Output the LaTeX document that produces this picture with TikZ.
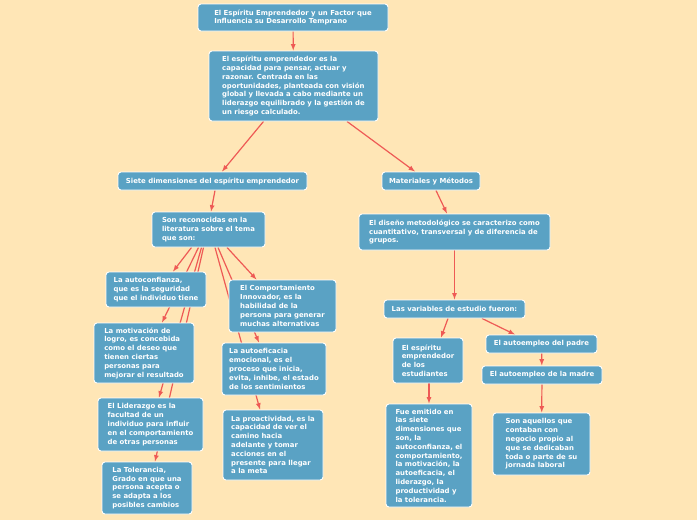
\documentclass[tikz,border=0pt]{standalone}
\usepackage{fontspec}
\setmainfont{DejaVu Sans}
\usepackage{tikz}
\usetikzlibrary{arrows}

\definecolor{paper}{HTML}{FFE6B6}
\definecolor{boxblue}{HTML}{5AA2C4}
\definecolor{linkred}{HTML}{EE5A55}

\pgfdeclarelayer{back}
\pgfdeclarelayer{lines}
\pgfsetlayers{back,lines,main}

\begin{document}
\begin{tikzpicture}[x=1pt,y=-1pt]

\tikzstyle{box} = [rectangle, rounded corners=3pt, draw=white, line width=0.9pt, fill=boxblue, text=white, font=\fontsize{6.9}{8.8}\selectfont\bfseries, align=left, inner sep=0pt]
\tikzstyle{link} = [-latex, color=linkred, line width=1.2pt]

\useasboundingbox (0,0) rectangle (697,520);
\begin{pgfonlayer}{back}
	\fill[paper] (0,0) rectangle (697,520);
\end{pgfonlayer}

%------------------------------------------------------------
	\node[box, minimum width=190, minimum height=27] (v0) at (293,17.5) {El Espíritu Emprendedor y un Factor que\\Influencia su Desarrollo Temprano};
	\node[box, minimum width=169, minimum height=70] (v1) at (293.5,86) {El espíritu emprendedor es la\\capacidad para pensar, actuar y\\razonar. Centrada en las\\oportunidades, planteada con visión\\global y llevada a cabo mediante un\\liderazgo equilibrado y la gestión de\\un riesgo calculado.};

%------------------------------------------------------------
	\node[box, minimum width=189, minimum height=18] (v10) at (212.5,181) {Siete dimensiones del espíritu emprendedor};
	\node[box, minimum width=113, minimum height=35] (v11) at (208.5,229.5) {Son reconocidas en la\\literatura sobre el tema\\que son:};
	\node[box, minimum width=100, minimum height=35] (v12) at (156,289.5) {La autoconfianza,\\que es la seguridad\\que el individuo tiene};
	\node[box, minimum width=107, minimum height=52] (v13) at (282.5,306) {El Comportamiento\\Innovador, es la\\habilidad de la\\persona para generar\\muchas alternativas};
	\node[box, minimum width=100, minimum height=60] (v14) at (144,353) {La motivación de\\logro, es concebida\\como el deseo que\\tienen ciertas\\personas para\\mejorar el resultado};
	\node[box, minimum width=104, minimum height=52] (v15) at (274,369) {La autoeficacia\\emocional, es el\\proceso que inicia,\\evita, inhibe, el estado\\de los sentimientos};
	\node[box, minimum width=105, minimum height=53] (v16) at (150.5,424.5) {El Liderazgo es la\\facultad de un\\individuo para influir\\en el comportamiento\\de otras personas};
	\node[box, minimum width=100, minimum height=70] (v17) at (273,445) {La proactividad, es la\\capacidad de ver el\\camino hacia\\adelante y tomar\\acciones en el\\presente para llegar\\a la meta};
	\node[box, minimum width=90, minimum height=52] (v18) at (147,488) {La Tolerancia,\\Grado en que una\\persona acepta o\\se adapta a los\\posibles cambios};

%------------------------------------------------------------
	\node[box, minimum width=98, minimum height=18] (v20) at (431,181) {Materiales y Métodos};
	\node[box, minimum width=191, minimum height=36] (v21) at (454.5,232) {El diseño metodológico se caracterizo como\\cuantitativo, transversal y de diferencia de\\grupos.};
	\node[box, minimum width=141, minimum height=18] (v22) at (454.5,309) {Las variables de estudio fueron:};
	\node[box, minimum width=70, minimum height=45] (v23) at (428,360.5) {El espíritu\\emprendedor\\de los\\estudiantes};
	\node[box, minimum width=111, minimum height=18] (v24) at (541.5,344) {El autoempleo del padre};
	\node[box, minimum width=120, minimum height=18] (v25) at (542,375) {El autoempleo de la madre};
	\node[box, minimum width=86, minimum height=103] (v26) at (429,455.5) {Fue emitido en\\las siete\\dimensiones que\\son, la\\autoconfianza, el\\comportamiento,\\la motivación, la\\autoeficacia, el\\liderazgo, la\\productividad y\\la tolerancia.};
	\node[box, minimum width=97, minimum height=62] (v27) at (541.5,444) {Son aquellos que\\contaban con\\negocio propio al\\que se dedicaban\\toda o parte de su\\jornada laboral};

%------------------------------------------------------------
\begin{pgfonlayer}{lines}
	\path[link] (v0) edge (v1);
	\path[link] ([xshift=-30]v1.south) edge ([xshift=9.5]v10.north);
	\path[link] ([xshift=53.5]v1.south) edge ([xshift=-16]v20.north);
	\path[link] ([xshift=2.5]v10.south) edge ([xshift=2.5]v11.north);

	\path[link] ([xshift=-17]v11.south) edge ([xshift=17]v12.north);
	\path[link] ([xshift=18.5]v11.south) edge ([xshift=-26]v13.north);
	\path[link] ([xshift=-10]v11.south) edge ([xshift=18]v14.north);
	\path[link] ([xshift=9.5]v11.south) edge ([xshift=-15]v15.north);
	\path[link] ([xshift=-7]v11.south) edge ([xshift=8.5]v16.north);
	\path[link] ([xshift=6.5]v11.south) edge ([xshift=-13]v17.north);
	\path[link] ([xshift=-5]v11.south) edge ([xshift=8]v18.north);

	\path[link] ([xshift=5]v20.south) edge ([xshift=-7.5]v21.north);
	\path[link] (v21) edge (v22);
	\path[link] ([xshift=-6.5]v22.south) edge ([xshift=13]v23.north);
	\path[link] ([xshift=27.5]v22.south) edge ([xshift=-26.5]v24.north);
	\path[link] (v24) edge (v25);
	\path[link] ([xshift=1]v23.south) edge (v26.north);
	\path[link] (v25) edge (v27);
\end{pgfonlayer}

\end{tikzpicture}
\end{document}
